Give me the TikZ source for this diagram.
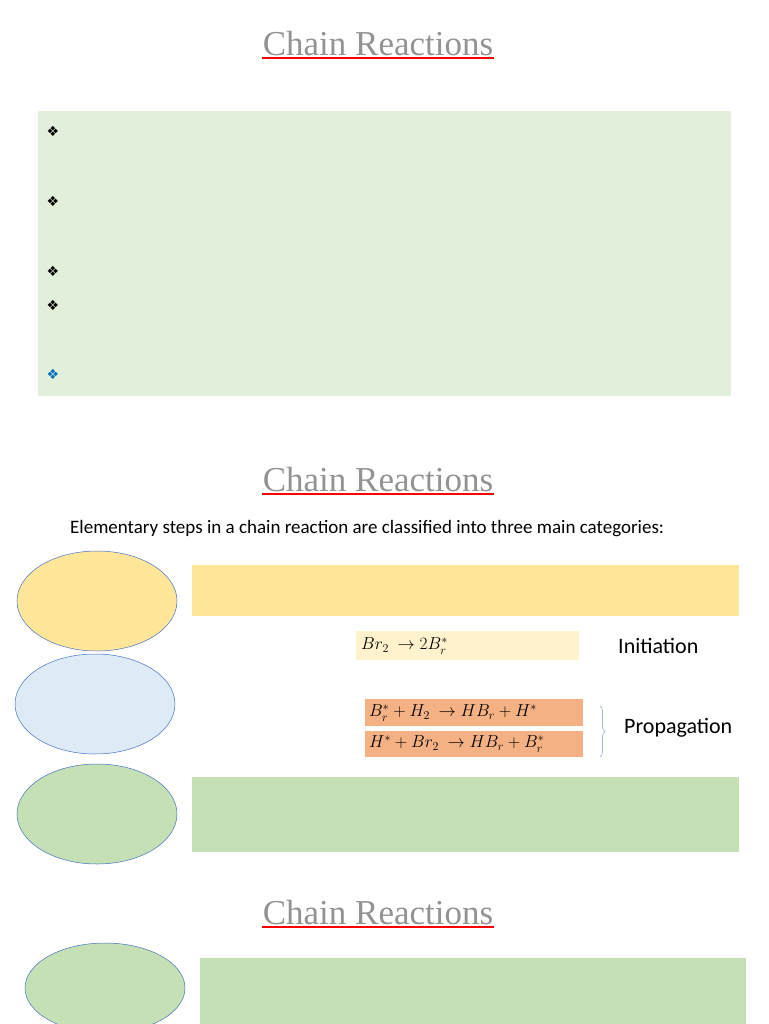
\documentclass[tikz,border=0pt]{standalone}
\usepackage{fontspec}
\setmainfont{Carlito}
\newfontfamily\titlefont{Liberation Serif}
\newfontfamily\symfont{DejaVu Sans}
\usetikzlibrary{decorations.pathreplacing,shapes.geometric}
\definecolor{lgreen}{HTML}{E2EFDA}
\definecolor{mgreen}{HTML}{C5E0B4}
\definecolor{myellow}{HTML}{FFE699}
\definecolor{pyellow}{HTML}{FFF2CC}
\definecolor{lblue}{HTML}{DEEBF7}
\definecolor{orng}{HTML}{F4B183}
\definecolor{edgeblue}{HTML}{4472C4}
\definecolor{bulblue}{HTML}{0070C0}
\tikzset{
 titletext/.style={font=\titlefont\fontsize{35}{38}\selectfont, text=gray!85, inner sep=0pt},
 uline/.style={red, line width=1.8pt},
 ell/.style={ellipse, draw=edgeblue, line width=0.5pt},
 bul/.style={font=\symfont\fontsize{14}{14}\selectfont, inner sep=0pt},
 eqbox/.style={inner sep=0pt, font=\fontsize{17}{20}\selectfont},
 lab/.style={font=\fontsize{22}{26}\selectfont, anchor=west, inner sep=0pt}
}
\begin{document}
\begin{tikzpicture}[x=1pt,y=-1pt]
\useasboundingbox (0,0) rectangle (768,1024);
% slide 1
\node[titletext] (t1) at (378,44) {Chain Reactions};
\draw[uline] (262,58) -- (494,58);
\fill[lgreen] (38,111) rectangle (731,396);
\foreach \yy in {131,201,271,305} \node[bul] at (53,\yy) {❖};
\node[bul, text=bulblue] at (53,374) {❖};
% slide 2
\node[titletext] (t2) at (378,480) {Chain Reactions};
\draw[uline] (262,494) -- (494,494);
\node[font=\fontsize{19}{22}\selectfont, anchor=west, inner sep=0pt] (intro) at (70,529) {Elementary steps in a chain reaction are classified into three main categories:};
\node[ell, fill=myellow, minimum width=160pt, minimum height=100pt] (e1) at (97,601) {};
\node[ell, fill=lblue, minimum width=160pt, minimum height=100pt] (e2) at (95,704) {};
\node[ell, fill=mgreen, minimum width=160pt, minimum height=100pt] (e3) at (97,814) {};
\fill[myellow] (192,565) rectangle (739,616);
\fill[mgreen] (192,777) rectangle (739,852);
\fill[pyellow] (356,631) rectangle (579,660);
\fill[orng] (365,699) rectangle (583,726);
\fill[orng] (365,731) rectangle (583,757);
\node[eqbox, anchor=west] (q1) at (361,646) {$Br_2\ \rightarrow 2B_r^*$};
\node[eqbox, anchor=west] (q2) at (369,713) {$B_r^*+H_2\ \rightarrow HB_r+H^*$};
\node[eqbox, anchor=west] (q3) at (369,744) {$H^*+Br_2\ \rightarrow HB_r+B_r^*$};
\node[lab] (init) at (618,646) {Initiation};
\draw[edgeblue!50, line width=0.7pt, decorate, decoration={brace, amplitude=5pt}] (600,706) -- (600,757);
\node[lab] (prop) at (624,728) {Propagation};
% slide 3
\node[titletext] (t3) at (378,913) {Chain Reactions};
\draw[uline] (262,927) -- (494,927);
\fill[mgreen] (200,958) rectangle (746,1030);
\node[ell, fill=mgreen, minimum width=160pt, minimum height=90pt] (e4) at (105,988) {};
\end{tikzpicture}
\end{document}
